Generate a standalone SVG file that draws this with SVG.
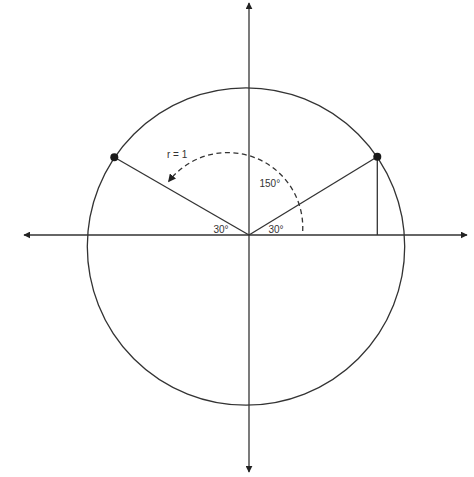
<svg xmlns="http://www.w3.org/2000/svg" width="474" height="477" viewBox="0 0 474 477">
<style>
.ln{stroke:#333;stroke-width:1.3;fill:none}
.dash{stroke:#333;stroke-width:1.3;fill:none;stroke-dasharray:5 3.5}
.lbl{font-family:"Liberation Sans",Arial,sans-serif;font-size:10px;fill:#333}
.dot{fill:#1a1a1a}
</style>
<defs>
<marker id="ah" viewBox="0 0 10 10" refX="9" refY="5" markerWidth="7" markerHeight="7" markerUnits="userSpaceOnUse" orient="auto">
<path d="M0,0 L10,5 L0,10 z" fill="#222"/>
</marker>
<marker id="ah2" viewBox="0 0 10 10" refX="8" refY="5" markerWidth="8" markerHeight="8" markerUnits="userSpaceOnUse" orient="auto">
<path d="M0,0 L10,5 L0,10 z" fill="#222"/>
</marker>
</defs>
<rect width="474" height="477" fill="#fff"/>
<g id="circle"><circle class="ln" cx="246" cy="246.5" r="158.7"/></g>
<g id="connectors">
<line class="ln" x1="249" y1="235" x2="24" y2="235" marker-end="url(#ah)"/>
<line class="ln" x1="249" y1="235" x2="467" y2="235" marker-end="url(#ah)"/>
<line class="ln" x1="249" y1="235" x2="249" y2="3" marker-end="url(#ah)"/>
<line class="ln" x1="249" y1="235" x2="249" y2="472" marker-end="url(#ah)"/>
<line class="ln" x1="249" y1="235" x2="377.3" y2="156.7"/>
<line class="ln" x1="249" y1="235" x2="114.3" y2="157.3"/>
<line class="ln" x1="377.3" y1="156.7" x2="377.3" y2="235"/>
<path class="dash" d="M302.7,231 A75,75 0 0 0 169,181" marker-end="url(#ah2)"/>
</g>
<g id="point-right"><circle class="dot" cx="377.3" cy="156.7" r="4"/></g>
<g id="point-left"><circle class="dot" cx="114.3" cy="157.3" r="4"/></g>
<g id="labels">
<text class="lbl" x="167" y="158">r = 1</text>
<text class="lbl" x="259.5" y="187">150°</text>
<text class="lbl" x="213.5" y="233">30°</text>
<text class="lbl" x="268.5" y="233">30°</text>
</g>
</svg>
